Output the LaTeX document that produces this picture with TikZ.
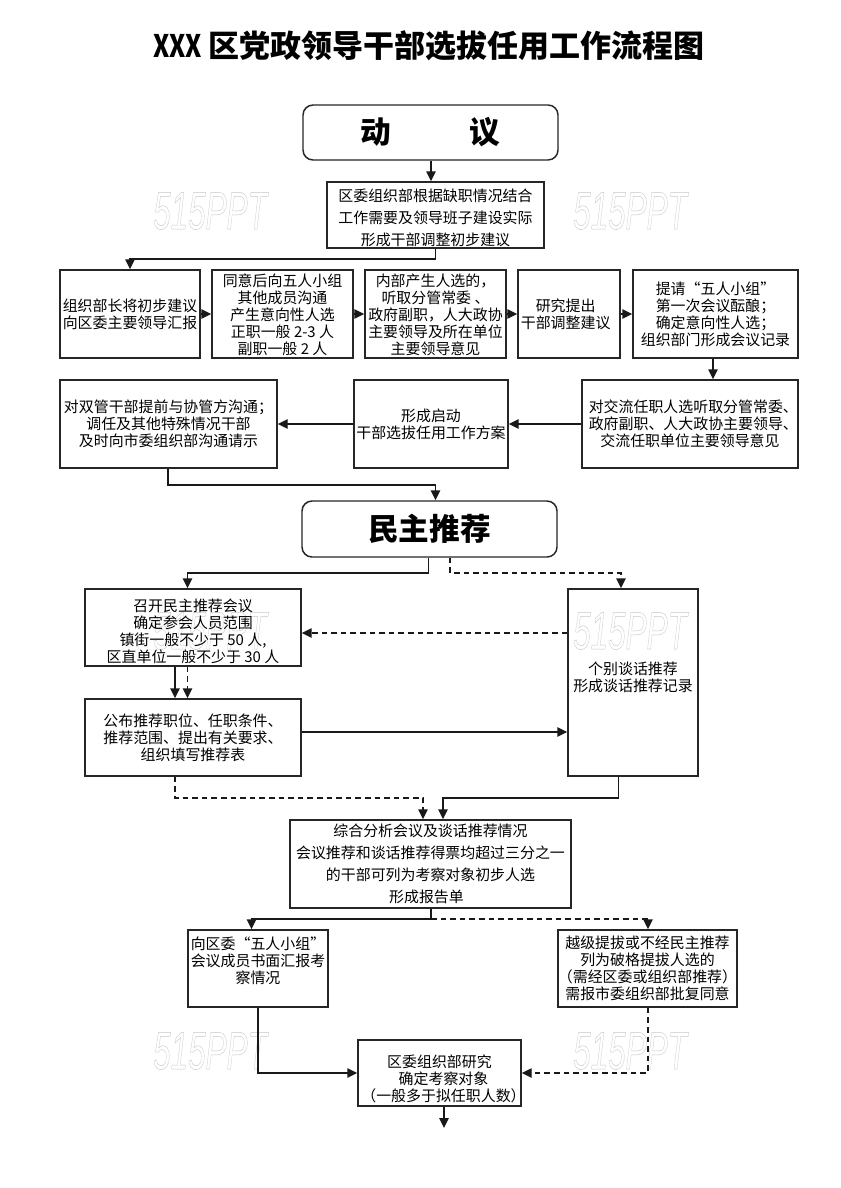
\documentclass[tikz,border=0pt]{standalone}
\usepackage{fontspec}
\setmainfont{Noto Sans CJK SC}
\newfontfamily\wmfont[ItalicFont=Liberation Sans Italic]{Liberation Sans}
\usetikzlibrary{arrows.meta}
\newcommand{\mybox}[7][]{%
  \pgfmathsetmacro{\cx}{(#3+#5)/2}\pgfmathsetmacro{\cy}{(#4+#6)/2}%
  \pgfmathsetmacro{\bw}{(#5-#3)*0.75}\pgfmathsetmacro{\bh}{(#6-#4)*0.75}%
  \node[boxnode,minimum width=\bw pt,minimum height=\bh pt,#1] (#2) at (\cx,\cy) {#7};}
\newcommand{\wmark}[2]{\node[wm] at (#1,#2) {\special{pdf:code 1 Tr 0.35 w}515PPT\special{pdf:code 0 Tr}};}
\newcommand{\tallstrut}[1]{\rule{0pt}{#1}}
\tikzset{
  x=0.75pt,y=-0.75pt,
  boxnode/.style={draw=black!85,line width=1.1pt,inner sep=0pt,align=center,text=black,font=\fontsize{11.2}{12.75}\selectfont},
  widels/.style={font=\fontsize{11.2}{16.5}\selectfont},
  bigbox/.style={rounded corners=7.5pt,font=\fontsize{23}{26}\selectfont\bfseries,text=black},
  conn/.style={draw=black!90,line width=1.1pt,-{Triangle[length=7.5pt,width=7pt]}},
  dconn/.style={conn,dash pattern=on 4.2pt off 3pt},
  wm/.style={text=black!22,font=\wmfont\itshape\fontsize{40}{40}\selectfont,inner sep=0pt,xscale=0.59,transform shape}
}
\begin{document}
\begin{tikzpicture}
\useasboundingbox[fill=white] (0,0) rectangle (840,1188);
% watermarks
\wmark{210}{211}\wmark{630}{211}\wmark{210}{631}\wmark{630}{631}\wmark{210}{1051}\wmark{630}{1051}
% title
\node[inner sep=0pt,font=\fontsize{23.25}{26}\selectfont\bfseries,text=black] (title) at (429,46) {\scalebox{0.8}[1]{XXX} 区党政领导干部选拔任用工作流程图};
% part 1
\mybox[bigbox]{dong}{303}{105}{558}{160}{动\hspace{59pt}议}
\mybox[widels]{qu}{327}{182}{544}{248}{\tallstrut{13pt}区委组织部根据缺职情况结合\\工作需要及领导班子建设实际\\形成干部调整初步建议}
\mybox{ra}{60}{270}{200}{358}{组织部长将初步建议\\向区委主要领导汇报}
\mybox{rb}{212}{270}{353}{358}{\tallstrut{11pt}同意后向五人小组\\其他成员沟通\\产生意向性人选\\正职一般 2-3 人\\副职一般 2 人}
\mybox{rc}{365}{270}{506}{358}{\tallstrut{11pt}内部产生人选的，\\听取分管常委 、\\政府副职，人大政协\\主要领导及所在单位\\主要领导意见}
\mybox{rd}{518}{270}{620}{358}{研究提出\hspace*{5pt}\\干部调整建议\hspace*{5pt}}
\mybox{re}{633}{270}{798}{358}{提请“五人小组”\\第一次会议酝酿；\\确定意向性人选；\\组织部门形成会议记录}
\mybox{sa}{60}{380}{277}{468}{对双管干部提前与协管方沟通；\\调任及其他特殊情况干部\\及时向市委组织部沟通请示}
\mybox{sb}{354}{380}{508}{468}{形成启动\\干部选拔任用工作方案}
\mybox{sc}{582}{380}{798}{468}{\hspace*{5pt}对交流任职人选听取分管常委、\\\hspace*{5pt}政府副职、人大政协主要领导、\\交流任职单位主要领导意见}
% part 2
\mybox[bigbox]{min}{302}{501}{557}{557}{民主推荐}
\mybox{ta}{85}{589}{301}{666}{\tallstrut{14.5pt}召开民主推荐会议\\确定参会人员范围\\镇街一般不少于 50 人,\\区直单位一般不少于 30 人}
\mybox{tb}{85}{699}{301}{776}{公布推荐职位、任职条件、\\推荐范围、提出有关要求、\\组织填写推荐表}
\mybox{tc}{568}{589}{698}{776}{个别谈话推荐\\形成谈话推荐记录\rule[-8.5pt]{0pt}{0pt}}
\mybox[widels]{zh}{290}{820}{571}{908}{综合分析会议及谈话推荐情况\\会议推荐和谈话推荐得票均超过三分之一\\的干部可列为考察对象初步人选\\形成报告单\hspace*{6pt}}
\mybox{ua}{188}{930}{328}{1007}{向区委“五人小组”\\会议成员书面汇报考\\察情况\\~}
\mybox{ub}{558}{930}{737}{1007}{越级提拔或不经民主推荐\\列为破格提拔人选的\\（需经区委或组织部推荐）\\需报市委组织部批复同意}
\mybox{ga}{358}{1040}{521}{1106}{\tallstrut{18.5pt}区委组织部研究\\\hspace*{6pt}确定考察对象\\\makebox[0pt]{\hspace*{6pt}（一般多于拟任职人数）}}
\coordinate (endpt) at (444,1128);
% connectors part 1
\draw[conn] (dong.south -| 431,0) -- (qu.north -| 431,0);
\draw[conn] (qu.south -| 435.5,0) -- (435.5,259) -| (ra.north);
\draw[conn] (ra.east |- 0,314) -- (rb.west |- 0,314);
\draw[conn] (rb.east |- 0,314) -- (rc.west |- 0,314);
\draw[conn] (rc.east |- 0,314) -- (rd.west |- 0,314);
\draw[conn] (rd.east |- 0,314) -- (re.west |- 0,314);
\draw[conn] (re.south -| 713,0) -- (sc.north -| 713,0);
\draw[conn] (sc.west |- 0,424) -- (sb.east |- 0,424);
\draw[conn] (sb.west |- 0,424) -- (sa.east |- 0,424);
\draw[conn] (sa.south -| 168,0) -- (168,485) -- (435.5,485) -- (min.north -| 435.5,0);
% connectors part 2
\draw[conn] (min.south -| 428.5,0) -- (428.5,573) -- (187.5,573) -- (ta.north -| 187.5,0);
\draw[dconn] (min.south -| 450,0) -- (450,573) -- (621,573) -- (tc.north -| 621,0);
\draw[dconn] (tc.west |- 0,633) -- (ta.east |- 0,633);
\draw[conn] (ta.south -| 175,0) -- (tb.north -| 175,0);
\draw[dconn] (ta.south -| 187.5,0) -- (tb.north -| 187.5,0);
\draw[conn] (tb.east |- 0,732) -- (tc.west |- 0,732);
\draw[dconn] (tb.south -| 175,0) -- (175,798) -- (423,798) -- (zh.north -| 423,0);
\draw[conn] (tc.south -| 618.5,0) -- (618.5,798) -- (443,798) -- (zh.north -| 443,0);
\draw[conn] (zh.south -| 431,0) -- (431,919) -| (ua.north -| 251.5,0);
\draw[dconn] (431,919) -- (648,919) -- (ub.north -| 648,0);
\draw[conn] (ua.south -| 258,0) -- (258,1073) -- (ga.west |- 0,1073);
\draw[dconn] (ub.south -| 648,0) -- (648,1073) -- (ga.east |- 0,1073);
\draw[conn] (ga.south -| endpt) -- (endpt);
\end{tikzpicture}
\end{document}
